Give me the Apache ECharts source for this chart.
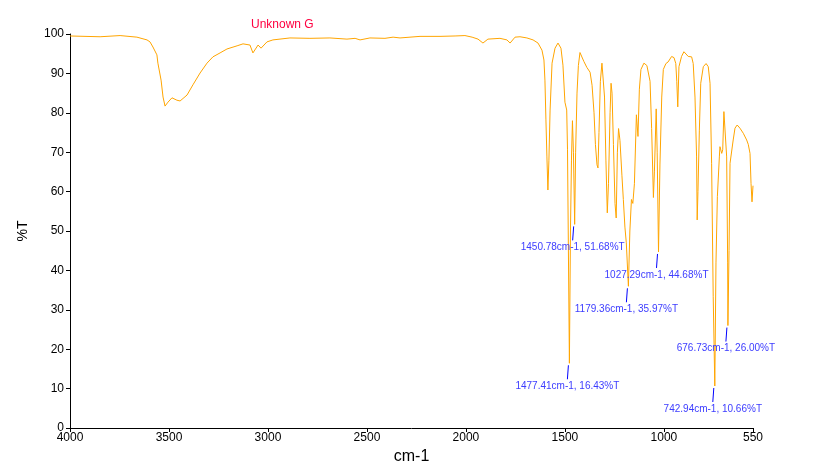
<!DOCTYPE html>
<html>
<head>
<meta charset="utf-8">
<script src="https://cdn.jsdelivr.net/npm/echarts@6/dist/echarts.min.js"></script>
<style>
  html, body { margin: 0; padding: 0; background: #fff; }
  #chart { width: 814px; height: 464px; }
</style>
</head>
<body>
<div id="chart"></div>
<script>
// spectrum
const wavenumbers = [4000,3848,3747,3662,3611,3596,3581,3561,3556,3540,3530,3520,3505,3485,3460,3444,3409,3379,3343,3308,3278,3242,3207,3156,3126,3091,3076,3066,3050,3035,3005,2975,2889,2788,2687,2601,2560,2535,2485,2409,2368,2333,2232,2131,2055,2005,1969,1939,1914,1889,1828,1793,1777,1752,1727,1692,1661,1636,1616,1606,1601,1596,1591,1586,1581,1575,1565,1550,1535,1520,1510,1500,1491,1487,1477.41,1472,1467,1462,1457,1450.78,1446,1439,1432,1424,1414,1404,1389,1373,1363,1353,1346,1338,1333,1328,1321,1313,1308,1300,1293,1286,1280,1272,1267,1262,1255,1247,1241,1235,1229,1222,1212,1205,1197,1190,1179.36,1172,1164,1157,1149,1139,1131,1124,1116,1101,1086,1070,1062,1053,1048,1039,1034,1027.29,1020,1011,1003,990,979,961,949,940,935,930,924,911,899,877,860,852,843,835,832,828,821,814,801,787,776,767,759,751,742.94,737,730,720,717,708,703,697,689,683,678,676.73,671,666,658,650,641,630,616,599,582,574,565,560,555,550]
const transmittance = [99.5,99.3,99.6,99.2,98.5,98.0,96.7,94.7,92.6,88.3,84.0,81.7,82.7,83.8,83.2,83.0,84.5,87.1,90.1,92.6,94.2,95.2,96.2,97.0,97.5,97.2,95.2,95.4,97.2,96.4,98.0,98.5,99.0,98.9,99.0,98.7,98.9,98.5,99.0,98.9,99.2,99.0,99.4,99.4,99.5,99.6,99.2,98.7,97.7,98.7,98.9,98.5,97.7,99.2,99.3,99.0,98.5,97.7,95.9,93.4,88.3,78.2,68.8,60.4,67.8,80.7,92.6,96.4,97.7,96.4,92.1,82.7,80.7,70.6,16.43,50,68,78,70,51.68,70,85,92,95.3,94.8,93,91.5,90.3,87,80,72,66.8,66,75,88,92.6,92.8,84,68,54.6,62,80,87.5,85,72,57,53.3,70,76,73,64,58,51,47,35.97,50,58,57,62,79.5,74,86,91,92.6,92,88,76,58.5,65,81,70,44.68,67,84,91,92.5,92.9,94.3,94,92.5,88,81.5,91.7,94.3,95.5,94.3,94.2,92.5,84,68.8,52.8,60,75.6,87.5,91.7,92.5,91.7,87.5,67.2,33.3,10.66,41.9,58.7,68.8,71.4,69.7,70.6,80.3,80.3,68.8,41.9,26.0,45,67.2,67.5,73.1,76.1,76.9,76.1,74.8,73.1,72,69.7,62.1,57.4,61.5]

// picked peaks
const peakWn = [1450.78, 1027.29, 1179.36, 676.73, 1477.41, 742.94]
const peakT = [51.68, 44.68, 35.97, 26.00, 16.43, 10.66]

const xTicks = [4000, 3500, 3000, 2500, 2000, 1500, 1000, 550]

const spectrum = wavenumbers.map((w, i) => [w, transmittance[i]])
const peaks = peakWn.map((w, i) => [w, peakT[i]])

const chart = echarts.init(document.getElementById('chart'))
const font = 'Liberation Sans, Arial, sans-serif'

chart.setOption({
  animation: false,
  title: {
    text: 'Unknown G',
    left: 246,
    top: 14,
    textStyle: { color: '#ff0040', fontSize: 12, fontWeight: 'normal', fontFamily: font }
  },
  grid: { left: 70, right: 61, top: 34, bottom: 36, outerBoundsMode: 'none', containLabel: false },
  xAxis: {
    type: 'value',
    min: 550,
    max: 4000,
    inverse: true,
    name: 'cm-1',
    nameLocation: 'middle',
    nameGap: 17,
    nameTextStyle: { fontSize: 16, color: '#000', fontFamily: font },
    axisLine: { lineStyle: { color: '#000', width: 1 } },
    axisTick: { length: 4, lineStyle: { color: '#000' }, customValues: xTicks },
    axisLabel: { color: '#000', fontSize: 12, margin: 4, fontFamily: font, customValues: xTicks, formatter: v => String(v) },
    splitLine: { show: false }
  },
  yAxis: {
    type: 'value',
    min: 0,
    max: 100,
    interval: 10,
    name: '%T',
    nameLocation: 'middle',
    nameGap: 40,
    nameRotate: 90,
    nameTextStyle: { fontSize: 14, color: '#000', fontFamily: font },
    axisLine: { show: true, lineStyle: { color: '#000', width: 1 } },
    axisTick: { show: true, length: 4, lineStyle: { color: '#000' } },
    axisLabel: { color: '#000', fontSize: 12, margin: 6, fontFamily: font },
    splitLine: { show: false }
  },
  series: [
    {
      type: 'line',
      data: spectrum,
      showSymbol: false,
      lineStyle: { color: '#ffa500', width: 1 },
      z: 2
    },
    {
      // peak annotations: short blue stem and a label underneath
      type: 'custom',
      data: peaks,
      z: 3,
      renderItem: (params, api) => {
        const p = api.coord([api.value(0), api.value(1)])
        const txt = api.value(0).toFixed(2) + 'cm-1, ' + api.value(1).toFixed(2) + '%T'
        return {
          type: 'group',
          children: [
            {
              type: 'line',
              shape: { x1: p[0] - 1, y1: p[1] + 2, x2: p[0] - 2, y2: p[1] + 16 },
              style: { stroke: '#0000ff', lineWidth: 1 }
            },
            {
              type: 'text',
              x: p[0] - 2,
              y: p[1] + 18,
              style: {
                text: txt,
                fill: '#3c3cff',
                font: '10px ' + font,
                align: 'center',
                verticalAlign: 'top'
              }
            }
          ]
        }
      }
    }
  ]
})
</script>
</body>
</html>
